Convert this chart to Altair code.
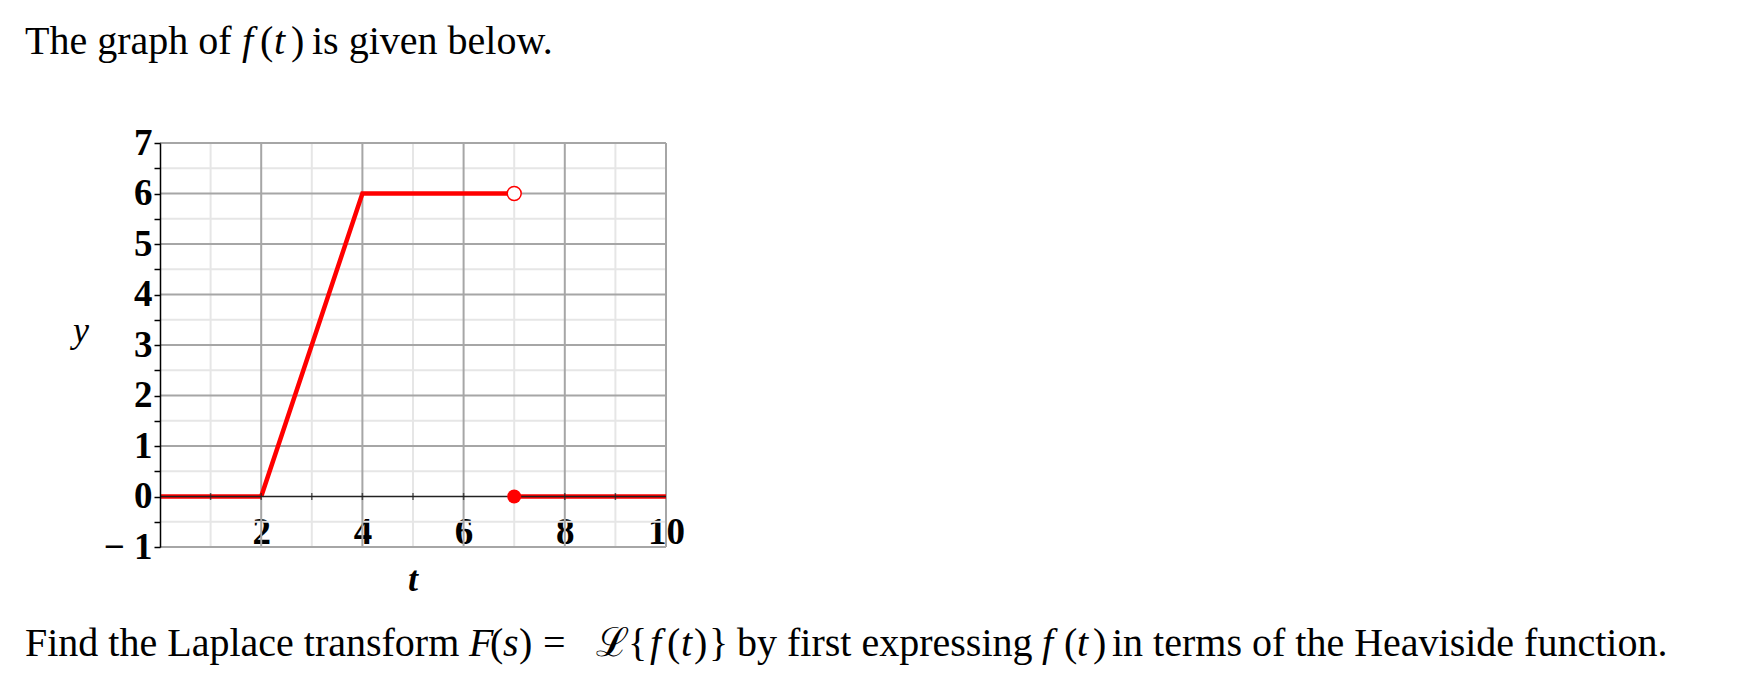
import altair as alt
import pandas as pd

# ---- data ----
seg_t = [0, 2, 2, 4, 7, 7, 10]
seg_y = [0, 0, 0, 6, 6, 0, 0]
seg_id = ["a", "a", "b", "b", "b", "c", "c"]
open_t, open_y = [7], [6]
closed_t, closed_y = [7], [0]
x_major = [2, 4, 6, 8, 10]
x_minor = [1, 3, 5, 7, 9]
y_major = [-1, 1, 2, 3, 4, 5, 6, 7]
y_minor = [-0.5, 0.5, 1.5, 2.5, 3.5, 4.5, 5.5, 6.5]
y_ticks = [-1, -0.5, 0, 0.5, 1, 1.5, 2, 2.5, 3, 3.5, 4, 4.5, 5, 5.5, 6, 6.5, 7]
x_axis_ticks = [1, 2, 3, 4, 5, 6, 8, 9]
x_labels = [2, 4, 6, 8, 10]
t_range = [0, 10]
y_range = [-1, 7]

# text pieces: (text, italic?)
title_parts = [("The graph of", False), ("f", True), ("(", False), ("t", True), (")", False),
               ("is given below.", False)]
question_parts = [("Find the Laplace transform", False), ("F", True), ("(", False), ("s", True),
                  (")", False), ("=", False), ("\u2112", False), ("{", False), ("f", True),
                  ("(", False), ("t", True), (")", False), ("}", False),
                  ("by first expressing", False), ("f", True), ("(", False), ("t", True),
                  (")", False), ("in terms of the Heaviside function.", False)]

W, H = 506, 404
SERIF = "Liberation Serif"

# absolute page x of each text piece (layout only)
title_x = [25, 242, 260, 274, 291, 312]
question_x = [25, 469, 490, 503, 519, 543, 596, 628, 650, 667, 681, 694, 709,
              737, 1042, 1064, 1077, 1093, 1112]
OX, OY = 160, 143  # plot origin on the page

xs = alt.Scale(domain=t_range, nice=False, zero=False)
ys = alt.Scale(domain=y_range, nice=False, zero=False)

X_AXIS = alt.Axis(
    values=x_labels, domain=False, ticks=False, grid=False, title=None, format="d",
    labelFont=SERIF, labelFontWeight="bold", labelFontSize=37, labelColor="black",
    labelBaseline="alphabetic", labelPadding=-4, labelFlush=False, labelOverlap=False)
Y_AXIS = alt.Axis(
    values=y_ticks,
    labelExpr="datum.value % 1 != 0 ? '' : (datum.value < 0 ? '\u2212 ' + abs(datum.value) : '' + datum.value)",
    grid=False, title=None, domainColor="black", domainWidth=1.5,
    tickColor="black", tickSize=6, tickWidth=1.5,
    labelFont=SERIF, labelFontWeight="bold", labelFontSize=37, labelColor="black",
    labelPadding=2, zindex=1, labelOverlap=False)


def X(f):
    return alt.X(f, scale=xs, axis=X_AXIS)


def Y(f):
    return alt.Y(f, scale=ys, axis=Y_AXIS)


def vgrid(vals, color, width):
    df = pd.DataFrame({"t": vals, "y": [y_range[0]] * len(vals), "y2": [y_range[1]] * len(vals)})
    return alt.Chart(df).mark_rule(color=color, strokeWidth=width).encode(
        x=X("t:Q"), y=Y("y:Q"), y2="y2:Q")


def hgrid(vals, color, width):
    df = pd.DataFrame({"y": vals, "t": [t_range[0]] * len(vals), "t2": [t_range[1]] * len(vals)})
    return alt.Chart(df).mark_rule(color=color, strokeWidth=width).encode(
        y=Y("y:Q"), x=X("t:Q"), x2="t2:Q")


grid = [vgrid(x_minor, "#e6e6e6", 2), hgrid(y_minor, "#e6e6e6", 2),
        vgrid(x_major, "#a6a6a6", 2), hgrid(y_major, "#a6a6a6", 2)]

lines = alt.Chart(pd.DataFrame({"t": seg_t, "y": seg_y, "seg": seg_id})).mark_line(
    color="#ff0000", strokeWidth=4.5).encode(x=X("t:Q"), y=Y("y:Q"), detail="seg:N")

xaxis_line = hgrid([0], "#222222", 1.5)
xaxis_ticks = alt.Chart(pd.DataFrame({"t": x_axis_ticks, "y": [0] * len(x_axis_ticks)})).mark_tick(
    orient="vertical", color="#222222", size=7, thickness=1.5).encode(x=X("t:Q"), y=Y("y:Q"))

open_pt = alt.Chart(pd.DataFrame({"t": open_t, "y": open_y})).mark_point(
    shape="circle", size=195, filled=False, fill="white", fillOpacity=1,
    stroke="#ff0000", strokeWidth=1.5, opacity=1).encode(x=X("t:Q"), y=Y("y:Q"))
closed_pt = alt.Chart(pd.DataFrame({"t": closed_t, "y": closed_y})).mark_circle(
    size=195, color="#ff0000", opacity=1).encode(x=X("t:Q"), y=Y("y:Q"))


def txt(s, x, y, size, style="normal", weight="normal", align="left", baseline="alphabetic"):
    return alt.Chart(pd.DataFrame({"a": [0]})).mark_text(
        text=s, font=SERIF, fontSize=size, fontStyle=style, fontWeight=weight,
        align=align, baseline=baseline, color="black").encode(
        x=alt.value(x), y=alt.value(y))


texts = []
for (s, it), px in zip(title_parts, title_x):
    texts.append(txt(s, px - OX, 54 - OY, 40, style="italic" if it else "normal"))
for (s, it), px in zip(question_parts, question_x):
    texts.append(txt(s, px - OX, 656 - OY, 40, style="italic" if it else "normal"))
texts.append(txt("y", 81 - OX, 331 - OY, 36, style="italic", align="center", baseline="middle"))
texts.append(txt("t", 413 - OX, 580 - OY, 36, style="italic", weight="bold", align="center",
                 baseline="middle"))

chart = alt.layer(*grid, lines, xaxis_line, xaxis_ticks, open_pt, closed_pt, *texts).properties(
    width=W, height=H,
    autosize=alt.AutoSizeParams(type="none"),
    padding={"left": OX - 8, "top": OY - 8, "right": 1742 - (OX - 8) - W, "bottom": 675 - (OY - 8) - H},
).configure_view(stroke=None)

chart.save("out.html", embed_options={"renderer": "svg", "actions": False})
